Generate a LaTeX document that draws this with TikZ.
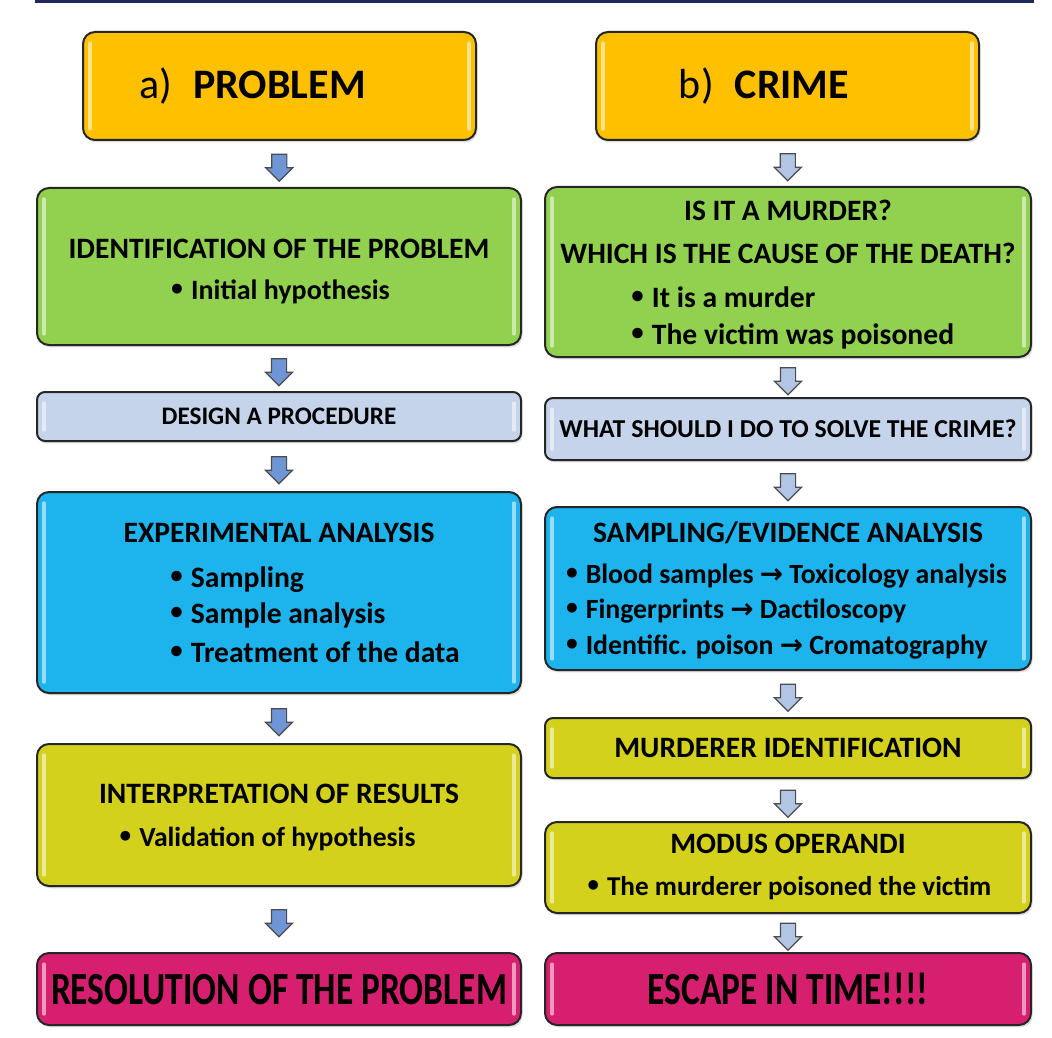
\documentclass[tikz,border=0pt]{standalone}
\usepackage{fontspec}
\usepackage{graphicx}
\setmainfont{Carlito}
\newfontfamily\symfont{DejaVu Sans}
\usetikzlibrary{shapes.arrows,shadows}
\definecolor{dnavy}{HTML}{1F2A5C}
\definecolor{dgold}{HTML}{FFC000}
\definecolor{dlime}{HTML}{92D050}
\definecolor{dmist}{HTML}{C5D4EA}
\definecolor{dsky}{HTML}{1DB3EC}
\definecolor{dolive}{HTML}{D3D11C}
\definecolor{dberry}{HTML}{D61F6E}
\definecolor{darrowa}{HTML}{6E96D6}
\definecolor{darrowb}{HTML}{B3C5E4}
\newcommand{\tto}{{\symfont\bfseries →}}
\newcommand{\bul}{{\symfont\bfseries •}\hspace{2.5pt}}
\newcommand{\bline}[2]{\makebox[#1][l]{\bul #2}}
\newcommand{\fsz}[1]{\fontsize{#1}{19}\selectfont}
\newcommand{\narrow}[1]{\scalebox{0.77}[1]{#1}}

\begin{document}
\begin{tikzpicture}[x=0.5pt, y=-0.5pt,
    box/.style={draw=black!85, line width=1pt, rounded corners=6pt, align=center,
        inner sep=0pt, text depth=0pt, font=\bfseries\fontsize{14.8}{19}\selectfont,
        drop shadow={opacity=0.25, shadow xshift=0.8pt, shadow yshift=-1.2pt}},
    lcol/.style={box, minimum width=242pt},
    rcol/.style={box, minimum width=243pt},
    downarrow/.style={single arrow, draw=black!70, line width=0.6pt, inner sep=3.5pt,
        single arrow head extend=3pt, minimum height=13.5pt, shape border rotate=270},
    gloss/.style={white, opacity=0.55, line width=1.6pt, line cap=round}]
\useasboundingbox[fill=white] (0,0) rectangle (1052,1037);
\draw[dnavy, line width=1.5pt] (35,2) -- (1034,2);

\node[box, fill=dgold, minimum width=196.5pt, minimum height=54pt, text depth=] (prob) at (279.5,86)
    {\fontsize{21}{25}\selectfont\mdseries a)\enspace\bfseries PROBLEM\hspace*{27pt}};
\node[lcol, fill=dlime, minimum height=78.5pt] (ident) at (279,266.5)
    {\rule{0pt}{12.7pt}IDENTIFICATION OF THE PROBLEM\\[1.5pt] {\fsz{14}\bul Initial hypothesis}};
\node[lcol, fill=dmist, minimum height=24.5pt, rounded corners=4pt,
    font=\bfseries\fontsize{12.6}{15}\selectfont] (design) at (279,416.5) {DESIGN A PROCEDURE};
\node[lcol, fill=dsky, minimum height=100.5pt] (exper) at (279,592.5)
    {EXPERIMENTAL ANALYSIS\\[3.5pt]
     \hspace*{32pt}\bline{144pt}{Sampling}\\[-1pt]
     \hspace*{32pt}\bline{144pt}{Sample analysis}\\[0.5pt]
     \hspace*{32pt}\bline{144pt}{Treatment of the data}};
\node[lcol, fill=dolive, minimum height=71pt] (interp) at (279,815)
    {INTERPRETATION OF RESULTS\\[2.5pt]\hspace*{-13pt}{\fsz{13.8}\bul Validation of hypothesis}};
\node[lcol, fill=dberry, minimum height=36pt, font=\bfseries\fontsize{23}{26}\selectfont] (resol) at (279,989)
    {\narrow{RESOLUTION OF THE PROBLEM}};

\node[box, fill=dgold, minimum width=191.5pt, minimum height=54pt, text depth=] (crime) at (787.5,86)
    {\fontsize{21}{25}\selectfont\mdseries b)\enspace\bfseries CRIME\hspace*{23.5pt}};
\node[rcol, fill=dlime, minimum height=85pt] (murd) at (788,272)
    {IS IT A MURDER?\\[2.5pt] WHICH IS THE CAUSE OF THE DEATH?\\[3pt]
     \bline{160pt}{It is a murder}\\[-0.5pt]
     \bline{160pt}{The victim was poisoned}};
\node[rcol, fill=dmist, minimum height=31pt, rounded corners=4pt,
    font=\bfseries\fontsize{12.9}{15}\selectfont] (solve) at (788,429) {WHAT SHOULD I DO TO SOLVE THE CRIME?};
\node[rcol, fill=dsky, minimum height=81.5pt] (evid) at (788,588.5)
    {SAMPLING/EVIDENCE ANALYSIS\\[1.5pt]
     {\fsz{13.9}\hspace*{-6pt}\bline{219pt}{Blood samples \tto\ Toxicology analysis}}\\[-1.5pt]
     {\fsz{13.9}\hspace*{-6pt}\bline{219pt}{Fingerprints \tto\ Dactiloscopy}}\\[-1pt]
     {\fsz{13.9}\hspace*{-6pt}\bline{219pt}{Identific. poison \tto\ Cromatography}}};
\node[rcol, fill=dolive, minimum height=30pt, rounded corners=4pt] (culprit) at (788,748) {MURDERER IDENTIFICATION};
\node[rcol, fill=dolive, minimum height=45.5pt, text depth=3pt] (modus) at (788,867.5)
    {MODUS OPERANDI\\[2pt] {\fsz{13.6}\bul The murderer poisoned the victim}};
\node[rcol, fill=dberry, minimum height=36pt, font=\bfseries\fontsize{23}{26}\selectfont] (escape) at (788,989)
    {\narrow{ESCAPE IN TIME!!!!}};

\foreach \n in {prob,ident,design,exper,interp,resol,crime,murd,solve,evid,culprit,modus,escape} {
    \draw[gloss] ([xshift=4pt,yshift=-6pt]\n.north west) -- ([xshift=4pt,yshift=6pt]\n.south west);
    \draw[gloss] ([xshift=-4pt,yshift=-6pt]\n.north east) -- ([xshift=-4pt,yshift=6pt]\n.south east);
}

\foreach \a/\b in {prob/ident,ident/design,design/exper,exper/interp,interp/resol} {
    \path (\a.south) -- node[downarrow, fill=darrowa] {} (\b.north);
}
\foreach \a/\b in {crime/murd,murd/solve,solve/evid,evid/culprit,culprit/modus,modus/escape} {
    \path (\a.south) -- node[downarrow, fill=darrowb] {} (\b.north);
}
\end{tikzpicture}
\end{document}
